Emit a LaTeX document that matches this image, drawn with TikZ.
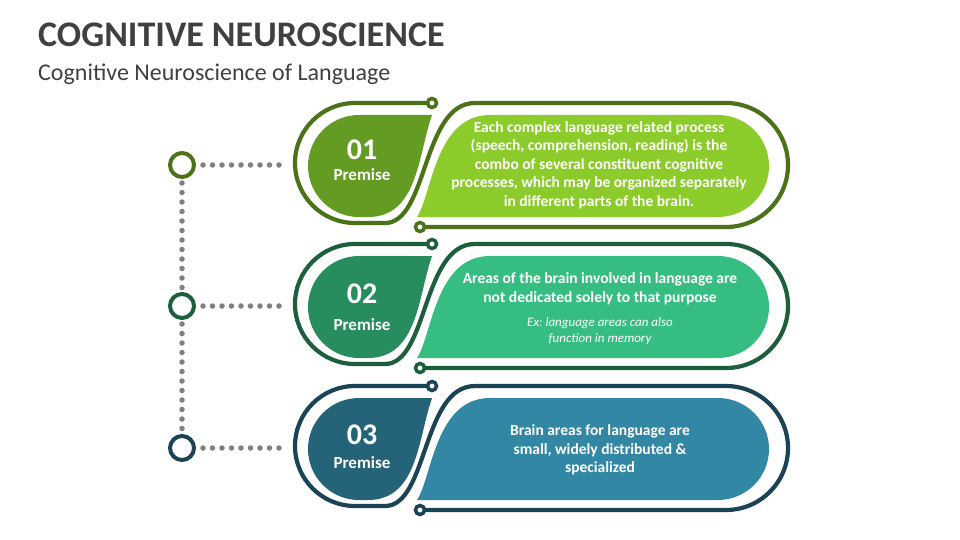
\documentclass[tikz,border=0pt]{standalone}
\usepackage{fontspec}
\setmainfont{Carlito}
\usepackage{tikz}
\usetikzlibrary{positioning, calc}

\definecolor{titlegray}{HTML}{404040}
\definecolor{dotgray}{HTML}{7F7F7F}
\definecolor{oneDark}{HTML}{4B7119}
\definecolor{oneMid}{HTML}{649B23}
\definecolor{oneLight}{HTML}{8BCB2A}
\definecolor{twoDark}{HTML}{1D5E3D}
\definecolor{twoMid}{HTML}{278C5E}
\definecolor{twoLight}{HTML}{36BE82}
\definecolor{threeDark}{HTML}{1A4356}
\definecolor{threeMid}{HTML}{256478}
\definecolor{threeLight}{HTML}{3287A5}

\begin{document}
\begin{tikzpicture}[
    x=1pt, y=1pt,
    ring/.style={circle, draw=#1, line width=4pt, fill=white,
                 minimum size=24pt, inner sep=0pt},
    knob/.style={circle, draw=#1, line width=3.5pt, fill=white,
                 minimum size=9pt, inner sep=0pt},
    frame/.style={draw=#1, line width=4.2pt},
    dotline/.style={dotgray, line width=5.5pt, line cap=round,
                    dash pattern=on 0pt off 9.5pt},
    numtxt/.style={text=white, font=\bfseries\fontsize{30}{30}\selectfont},
    premtxt/.style={text=white, font=\bfseries\fontsize{17}{17}\selectfont},
    bodytxt/.style={text=white, align=center, inner sep=0pt,
                    font=\bfseries\fontsize{15.5}{18.5}\selectfont},
    notetxt/.style={text=white, align=center, inner sep=0pt,
                    font=\frenchspacing\itshape\fontsize{13}{16}\selectfont}
  ]
  \useasboundingbox (0,0) rectangle (960,-540);

  % Title
  \node[anchor=base west, inner sep=0pt, text=titlegray,
        font=\bfseries\fontsize{36}{36}\selectfont] (title) at (38,-47)
    {COGNITIVE NEUROSCIENCE};
  \node[anchor=base west, inner sep=0pt, text=titlegray,
        font=\fontsize{24}{24}\selectfont] (subtitle) at (38,-81)
    {Cognitive Neuroscience of Language};

  % Premise rows
  \foreach \n/\yc/\ny/\py/\dk/\md/\lt in {1/165/15/-10/oneDark/oneMid/oneLight,
                                          2/306/12/-19/twoDark/twoMid/twoLight,
                                          3/448/13/-15/threeDark/threeMid/threeLight} {
    \begin{scope}[shift={(0,-\yc)}]
      % text panel
      \fill[\lt] (417,-52) .. controls (432,-30) and (435,50) .. (490,50)
        -- (718,50) arc[start angle=90, end angle=-90, radius=51] -- cycle;
      % drop
      \fill[\md] (432,50) -- (359,50) arc[start angle=90, end angle=270, radius=51]
        -- (368,-52) .. controls (418,-52) and (418,10) .. (432,50) -- cycle;
      % outline
      \draw[frame=\dk] (427,62) -- (355,62)
        arc[start angle=90, end angle=270, radius=60]
        -- (385,-58) .. controls (428,-58) and (422,62) .. (475,62)
        -- (726,62) arc[start angle=90, end angle=-90, radius=62]
        -- (425,-62);
      \node[knob=\dk] (top\n) at (432,62) {};
      \node[knob=\dk] (bot\n) at (420,-62) {};
      \node[numtxt] (num\n) at (362,\ny) {0\n};
      \node[premtxt] (prem\n) at (362,\py) {Premise};
      \node[ring=\dk] (ring\n) at (182,0) {};
      \coordinate (dotend\n) at (281,0);
    \end{scope}
    \draw[dotline] ([xshift=7pt]ring\n.east) -- (dotend\n);
  }

  % Vertical dotted spine
  \draw[dotline] ([yshift=-4pt]ring1.south) -- ([yshift=4pt]ring2.north);
  \draw[dotline] ([yshift=-4pt]ring2.south) -- ([yshift=4pt]ring3.north);

  % Texts
  \node[bodytxt] (body1) at (599,-165)
    {Each complex language related process\\(speech, comprehension, reading) is the\\
     combo of several constituent cognitive\\processes, which may be organized separately\\
     in different parts of the brain.};
  \node[bodytxt] (body2) at (600,-289)
    {Areas of the brain involved in language are\\not dedicated solely to that purpose};
  \node[notetxt] (note2) at (600,-331)
    {Ex: language areas can also\\function in memory};
  \node[bodytxt] (body3) at (600,-450)
    {Brain areas for language are\\small, widely distributed \&\\specialized};

\end{tikzpicture}
\end{document}
